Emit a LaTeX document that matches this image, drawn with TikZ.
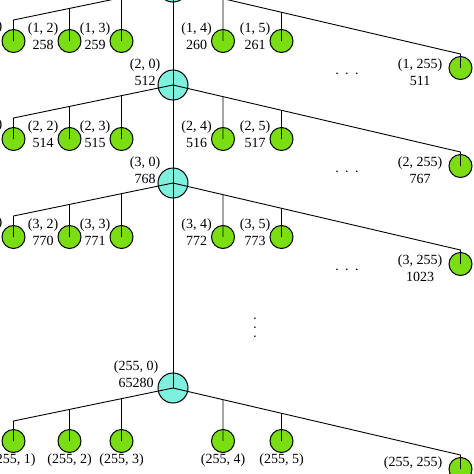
\documentclass[tikz,border=0pt]{standalone}
\usepackage{fontspec}
\setmainfont{Liberation Serif}
\usetikzlibrary{calc}
\definecolor{leafgreen}{RGB}{122,222,18}
\definecolor{hubcyan}{RGB}{125,240,222}
\begin{document}
\begin{tikzpicture}[x=1pt,y=-1pt,
  hub/.style={circle,draw=black,line width=1pt,fill=hubcyan,minimum size=30pt,inner sep=0pt},
  leaf/.style={circle,draw=black,line width=1pt,fill=leafgreen,minimum size=23pt,inner sep=0pt},
  link/.style={line width=0.9pt,black},
  lbl/.style={font=\fontsize{14}{17}\selectfont,align=center,inner sep=0pt},
  dotsh/.style={font=\fontsize{14}{17}\selectfont,inner sep=0pt},
  ]
\useasboundingbox (0,0) rectangle (474,474);
\clip (0,0) rectangle (474,474);

\foreach \r/\hy in {1/-13, 2/85, 3/183}{
  \node[hub] (h\r) at (173,\hy) {};
  \foreach \x/\k in {13.5/1, 69.5/2, 121.5/3, 223/4, 281.5/5}
    \node[leaf] (l\r-\k) at (\x,\hy+54) {};
  \node[leaf] (l\r-255) at (460.5,\hy+81) {};
  \coordinate (bl\r) at (13.5,\hy+33);
  \coordinate (br\r) at (460.5,\hy+67);
  \draw[link] (h\r.center) -- (bl\r) -- (l\r-1.center);
  \draw[link] (h\r.center) -- (br\r) -- (l\r-255.center);
  \foreach \x/\k in {69.5/2, 121.5/3}
    \draw[link] ($(h\r.center)!{(173-\x)/159.5}!(bl\r)$) -- (l\r-\k.center);
  \foreach \x/\k in {223/4, 281.5/5}
    \draw[link] ($(h\r.center)!{(\x-173)/287.5}!(br\r)$) -- (l\r-\k.center);
  \foreach \k in {2,3,4,5}{
    \pgfmathtruncatemacro\n{256*\r+\k}
    \node[lbl,anchor=east] (t\r-\k) at ($(l\r-\k.west)+(1,-5)$) {(\r, \k)\\\n};
  }
  \pgfmathtruncatemacro\n{256*\r+255}
  \node[lbl,anchor=east] (t\r-255) at ($(l\r-255.west)+(-6,4)$) {(\r, 255)\\\n};
  \node[lbl,anchor=east] (t\r-1) at ($(l\r-1.west)+(1,-13.5)$) {(\r, 1)};
  \ifnum\r>1
    \pgfmathtruncatemacro\m{256*\r}
    \node[lbl,anchor=east] (th\r) at ($(h\r.center)+(-12.5,-13)$) {(\r, 0)\\\m};
  \fi
  \node[dotsh] (d\r) at (347,\hy+87) {.\hspace{6.5pt}.\hspace{6.5pt}.};
}

% last block
\node[hub] (h255) at (173,388) {};
\foreach \x/\k in {13.5/1, 69.5/2, 121.5/3, 223/4, 281.5/5}
  \node[leaf] (l255-\k) at (\x,441) {};
\node[leaf] (l255-255) at (460.5,469) {};
\coordinate (bl255) at (13.5,421);
\coordinate (br255) at (460.5,455);
\draw[link] (h255.center) -- (bl255) -- (l255-1.center);
\draw[link] (h255.center) -- (br255) -- (l255-255.center);
\foreach \x/\k in {69.5/2, 121.5/3}
  \draw[link] ($(h255.center)!{(173-\x)/159.5}!(bl255)$) -- (l255-\k.center);
\foreach \x/\k in {223/4, 281.5/5}
  \draw[link] ($(h255.center)!{(\x-173)/287.5}!(br255)$) -- (l255-\k.center);
\foreach \k in {1,2,3,4,5}
  \node[lbl] (t255-\k) at ($(l255-\k.center)+(0,19)$) {(255, \k)};
\node[lbl,anchor=east] (t255-255) at ($(l255-255.west)+(-6,-6)$) {(255, 255)};
\node[lbl,anchor=east] (th255) at ($(h255.center)+(-14.5,-14)$) {(255, 0)\\65280};

% spine
\draw[link] (h1.center) -- (h255.center);

% vertical dots
\node[dotsh,rotate=90] (vd) at (255,328) {.\hspace{5.5pt}.\hspace{5.5pt}.};
\end{tikzpicture}
\end{document}
